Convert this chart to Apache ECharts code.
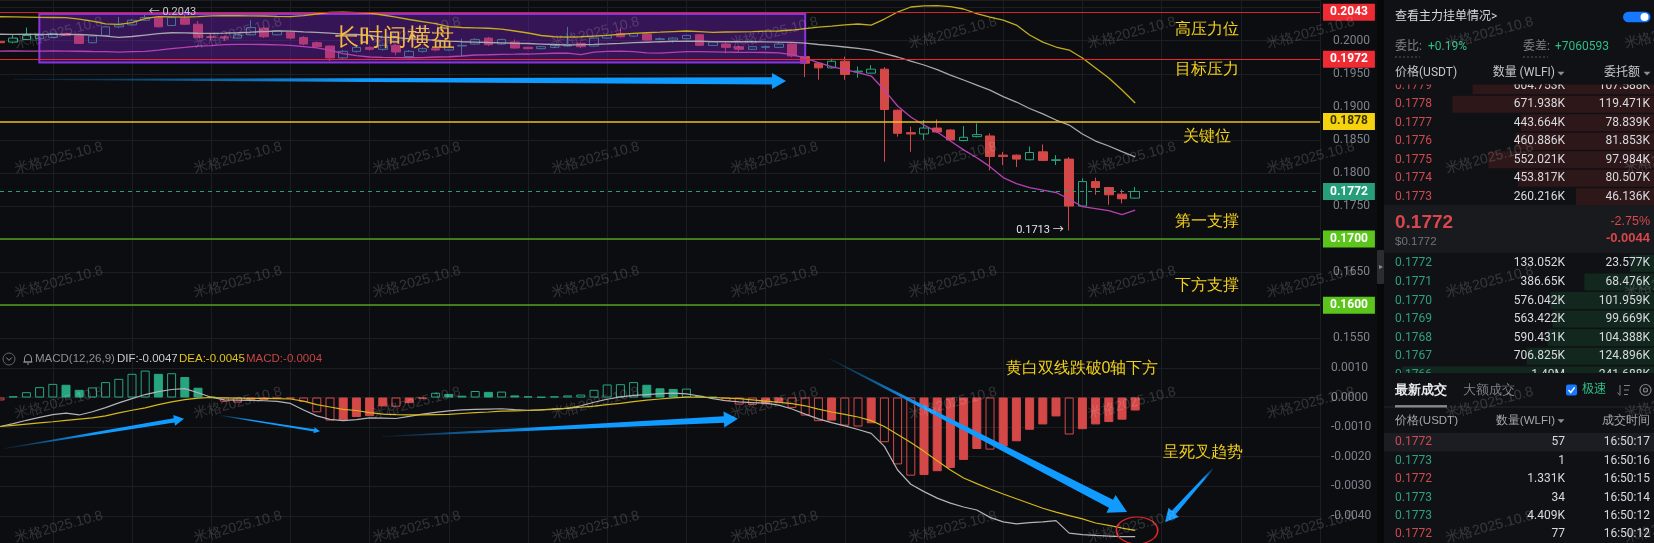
<!DOCTYPE html>
<html lang="zh-CN">
<head>
<meta charset="utf-8">
<title>WLFI/USDT 行情</title>
<script src="https://cdn.jsdelivr.net/npm/echarts@6.0.0/dist/echarts.min.js"></script>
<style>
  html, body { margin: 0; padding: 0; background: #0c0d10; overflow: hidden; }
  #main { width: 1654px; height: 543px; }
</style>
</head>
<body>
<div id="main"></div>
<script>
  // K线 + BOLL + MACD + 右侧盘口，数据按截图估读
  const FONT = 'Roboto, "Noto Sans CJK SC", sans-serif'
  const BG = '#0c0d10'
  const PANEL = '#101114'
  const GRID_LINE = '#1c1e22'
  const UP = '#26a67f'
  const DOWN = '#d44848'

  // ---------- 数据 ----------
  // 101 个位置，后面一段留空
  const categories = Array.from({ length: 101 }, (_, i) => String(i))

  // [open, close, low, high]
  const candles = [
    [0.1999, 0.1997, 0.1996, 0.2000], [0.1998, 0.2004, 0.1996, 0.2010], [0.2002, 0.2008, 0.2001, 0.2020],
    [0.2003, 0.2008, 0.2002, 0.2009], [0.2005, 0.2011, 0.2004, 0.2012], [0.2011, 0.2008, 0.2007, 0.2012],
    [0.2008, 0.1996, 0.1995, 0.2009], [0.1997, 0.2007, 0.1996, 0.2008], [0.2008, 0.2021, 0.2007, 0.2022],
    [0.2021, 0.2024, 0.2019, 0.2036], [0.2024, 0.2031, 0.2023, 0.2033], [0.2031, 0.2035, 0.2030, 0.2043],
    [0.2035, 0.2021, 0.2020, 0.2036], [0.2023, 0.2035, 0.2022, 0.2036], [0.2034, 0.2025, 0.2024, 0.2039],
    [0.2025, 0.2005, 0.2003, 0.2030], [0.2006, 0.2005, 0.2000, 0.2010], [0.2006, 0.2004, 0.2000, 0.2008],
    [0.2004, 0.2009, 0.2003, 0.2010], [0.2009, 0.2020, 0.2008, 0.2031], [0.2019, 0.2006, 0.2004, 0.2021],
    [0.2009, 0.2015, 0.2008, 0.2016], [0.2013, 0.2004, 0.2002, 0.2015], [0.2005, 0.1995, 0.1993, 0.2007],
    [0.1997, 0.1991, 0.1990, 0.1999], [0.1992, 0.1974, 0.1969, 0.1993], [0.1974, 0.1984, 0.1972, 0.1986],
    [0.1984, 0.1990, 0.1982, 0.1992], [0.1990, 0.1987, 0.1985, 0.1992], [0.1987, 0.1993, 0.1985, 0.1995],
    [0.1993, 0.1983, 0.1978, 0.1995], [0.1976, 0.1984, 0.1974, 0.1986], [0.1984, 0.1988, 0.1982, 0.1990],
    [0.1988, 0.1986, 0.1984, 0.1990], [0.1986, 0.1990, 0.1985, 0.1992], [0.1992, 0.1993, 0.1976, 0.2003],
    [0.1995, 0.2002, 0.1994, 0.2004], [0.2004, 0.1994, 0.1992, 0.2006], [0.1995, 0.2002, 0.1994, 0.2003],
    [0.1998, 0.1989, 0.1988, 0.2002], [0.1990, 0.1988, 0.1987, 0.1991], [0.1988, 0.1991, 0.1987, 0.1992],
    [0.1990, 0.1993, 0.1989, 0.1994], [0.1992, 0.1994, 0.1991, 0.2021], [0.1996, 0.1991, 0.1989, 0.1998],
    [0.1992, 0.2004, 0.1991, 0.2005], [0.2004, 0.2008, 0.2003, 0.2010], [0.2011, 0.2006, 0.2005, 0.2020],
    [0.2007, 0.2011, 0.2006, 0.2012], [0.2010, 0.2001, 0.2000, 0.2012], [0.2002, 0.2003, 0.2001, 0.2005],
    [0.2001, 0.2004, 0.1997, 0.2005], [0.2003, 0.2008, 0.2002, 0.2009], [0.2009, 0.1993, 0.1992, 0.2010],
    [0.1993, 0.1998, 0.1992, 0.1999], [0.1995, 0.1990, 0.1981, 0.1997], [0.1991, 0.1987, 0.1984, 0.1992],
    [0.1987, 0.1991, 0.1986, 0.1992], [0.1990, 0.1991, 0.1986, 0.1993], [0.1990, 0.1995, 0.1989, 0.1999],
    [0.1995, 0.1977, 0.1975, 0.1996], [0.1976, 0.1966, 0.1945, 0.1981], [0.1966, 0.1959, 0.1941, 0.1966],
    [0.1959, 0.1969, 0.1958, 0.1973], [0.1969, 0.1949, 0.1941, 0.1976], [0.1953, 0.1954, 0.1944, 0.1961],
    [0.1951, 0.1957, 0.1950, 0.1963], [0.1957, 0.1896, 0.1817, 0.1960], [0.1895, 0.1860, 0.1855, 0.1896],
    [0.1861, 0.1859, 0.1832, 0.1870], [0.1859, 0.1868, 0.1850, 0.1880], [0.1868, 0.1862, 0.1861, 0.1881],
    [0.1865, 0.1850, 0.1849, 0.1866], [0.1849, 0.1854, 0.1848, 0.1871], [0.1855, 0.1858, 0.1854, 0.1875],
    [0.1856, 0.1825, 0.1804, 0.1860], [0.1827, 0.1825, 0.1812, 0.1832], [0.1827, 0.1821, 0.1809, 0.1828],
    [0.1820, 0.1831, 0.1819, 0.1840], [0.1832, 0.1819, 0.1818, 0.1843], [0.1819, 0.1820, 0.1812, 0.1827],
    [0.1821, 0.1750, 0.1713, 0.1824], [0.1750, 0.1787, 0.1749, 0.1792], [0.1787, 0.1778, 0.1767, 0.1793],
    [0.1778, 0.1767, 0.1752, 0.1779], [0.1768, 0.1761, 0.1754, 0.1775], [0.1762, 0.1772, 0.1761, 0.1779]
  ]

  const bollUp = [
    0.20363, 0.20360, 0.20357, 0.20354, 0.20351, 0.20348, 0.20328, 0.20298, 0.20256, 0.20248,
    0.20275, 0.20336, 0.20363, 0.20361, 0.20358, 0.20366, 0.20377, 0.20378, 0.20378, 0.20377,
    0.20374, 0.20369, 0.20366, 0.20381, 0.20404, 0.20429, 0.20434, 0.20426, 0.20419, 0.20389,
    0.20358, 0.20321, 0.20290, 0.20260, 0.20212, 0.20200, 0.20195, 0.20189, 0.20177, 0.20147,
    0.20117, 0.20079, 0.20060, 0.20056, 0.20060, 0.20071, 0.20082, 0.20098, 0.20112, 0.20121,
    0.20129, 0.20138, 0.20147, 0.20139, 0.20127, 0.20132, 0.20135, 0.20139, 0.20144, 0.20147,
    0.20162, 0.20184, 0.20207, 0.20222, 0.20240, 0.20253, 0.20237, 0.20328, 0.20434, 0.20510,
    0.20528, 0.20531, 0.20517, 0.20480, 0.20411, 0.20358, 0.20313, 0.20237, 0.20086, 0.19980,
    0.19905, 0.19859, 0.19738, 0.19587, 0.19436, 0.19254, 0.19058
  ]
  const bollMid = [
    0.20098, 0.20097, 0.20099, 0.20097, 0.20096, 0.20097, 0.20094, 0.20086, 0.20071, 0.20051,
    0.20064, 0.20086, 0.20109, 0.20121, 0.20119, 0.20113, 0.20112, 0.20116, 0.20121, 0.20129,
    0.20139, 0.20147, 0.20144, 0.20135, 0.20127, 0.20116, 0.20101, 0.20094, 0.20079, 0.20056,
    0.20048, 0.20033, 0.20018, 0.20008, 0.19995, 0.19985, 0.19980, 0.19973, 0.19968, 0.19962,
    0.19958, 0.19950, 0.19943, 0.19935, 0.19940, 0.19946, 0.19953, 0.19961, 0.19970, 0.19977,
    0.19985, 0.19991, 0.19995, 0.19992, 0.19988, 0.19985, 0.19985, 0.19985, 0.19983, 0.19980,
    0.19976, 0.19965, 0.19943, 0.19927, 0.19905, 0.19885, 0.19859, 0.19806, 0.19754, 0.19693,
    0.19633, 0.19564, 0.19481, 0.19406, 0.19330, 0.19254, 0.19156, 0.19073, 0.18975, 0.18893,
    0.18801, 0.18725, 0.18589, 0.18483, 0.18408, 0.18324, 0.18245
  ]
  const bollLow = [
    0.19844, 0.19845, 0.19843, 0.19844, 0.19845, 0.19843, 0.19841, 0.19837, 0.19834, 0.19829,
    0.19834, 0.19840, 0.19859, 0.19882, 0.19900, 0.19920, 0.19927, 0.19940, 0.19946, 0.19946,
    0.19943, 0.19938, 0.19930, 0.19912, 0.19893, 0.19859, 0.19806, 0.19776, 0.19754, 0.19749,
    0.19746, 0.19743, 0.19746, 0.19754, 0.19758, 0.19769, 0.19784, 0.19788, 0.19794, 0.19796,
    0.19799, 0.19806, 0.19811, 0.19814, 0.19791, 0.19829, 0.19840, 0.19844, 0.19834, 0.19817,
    0.19814, 0.19825, 0.19834, 0.19834, 0.19832, 0.19829, 0.19826, 0.19825, 0.19822, 0.19817,
    0.19791, 0.19738, 0.19670, 0.19610, 0.19564, 0.19519, 0.19466, 0.19254, 0.19013, 0.18847,
    0.18725, 0.18619, 0.18483, 0.18349, 0.18231, 0.18096, 0.17930, 0.17839, 0.17780, 0.17742,
    0.17705, 0.17606, 0.17490, 0.17462, 0.17432, 0.17372, 0.17440
  ]

  const macdHist = [
    -0.00010, 0.00004, 0.00018, 0.00035, 0.00046, 0.00043, 0.00026, 0.00034, 0.00052, 0.00063,
    0.00080, 0.00091, 0.00080, 0.00082, 0.00069, 0.00033, 0.00003, -0.00014, -0.00017, -0.00010,
    -0.00009, -0.00003, -0.00004, -0.00015, -0.00050, -0.00078, -0.00077, -0.00066, -0.00063, -0.00030,
    -0.00031, -0.00019, -0.00004, 0.00016, 0.00012, 0.00006, 0.00022, 0.00019, 0.00020, 0.00007,
    0.00004, 0.00002, 0.00004, 0.00007, 0.00010, 0.00026, 0.00044, 0.00045, 0.00052, 0.00043,
    0.00031, 0.00029, 0.00030, 0.00006, 0.00002, -0.00012, -0.00024, -0.00025, -0.00023, -0.00019,
    -0.00035, -0.00061, -0.00080, -0.00078, -0.00095, -0.00098, -0.00087, -0.00151, -0.00226, -0.00264,
    -0.00262, -0.00249, -0.00238, -0.00211, -0.00174, -0.00176, -0.00166, -0.00148, -0.00109, -0.00091,
    -0.00064, -0.00125, -0.00107, -0.00091, -0.00083, -0.00075, -0.00044
  ]
  const macdDif = [
    -0.00098, -0.00088, -0.00077, -0.00067, -0.00058, -0.00053, -0.00059, -0.00048, -0.00034, -0.00018,
    -0.00004, 0.00010, 0.00020, 0.00027, 0.00030, 0.00016, 0.00001, -0.00008, -0.00009, -0.00010,
    -0.00011, -0.00013, -0.00020, -0.00042, -0.00062, -0.00074, -0.00078, -0.00075, -0.00069, -0.00070,
    -0.00071, -0.00064, -0.00056, -0.00050, -0.00045, -0.00042, -0.00040, -0.00039, -0.00038, -0.00041,
    -0.00043, -0.00042, -0.00038, -0.00037, -0.00028, -0.00016, -0.00006, 0.00002, 0.00007, 0.00010,
    0.00013, 0.00015, 0.00012, 0.00005, -0.00004, -0.00011, -0.00015, -0.00017, -0.00019, -0.00026,
    -0.00039, -0.00056, -0.00072, -0.00085, -0.00096, -0.00108, -0.00121, -0.00165, -0.00245, -0.00293,
    -0.00318, -0.00340, -0.00357, -0.00370, -0.00380, -0.00405, -0.00420, -0.00427, -0.00423, -0.00420,
    -0.00416, -0.00458, -0.00463, -0.00466, -0.00468, -0.00470, -0.00470
  ]
  const macdDea = [
    -0.00098, -0.00094, -0.00090, -0.00086, -0.00082, -0.00077, -0.00073, -0.00069, -0.00062, -0.00052,
    -0.00043, -0.00035, -0.00024, -0.00015, -0.00007, -0.00002, 0.00000, -0.00001, -0.00002, -0.00003,
    -0.00003, -0.00004, -0.00005, -0.00012, -0.00024, -0.00032, -0.00040, -0.00044, -0.00051, -0.00056,
    -0.00058, -0.00059, -0.00059, -0.00058, -0.00057, -0.00054, -0.00051, -0.00049, -0.00046, -0.00045,
    -0.00044, -0.00042, -0.00040, -0.00036, -0.00033, -0.00029, -0.00024, -0.00020, -0.00014, -0.00009,
    -0.00005, -0.00001, 0.00001, 0.00001, 0.00000, -0.00002, -0.00004, -0.00008, -0.00012, -0.00016,
    -0.00021, -0.00028, -0.00039, -0.00049, -0.00057, -0.00066, -0.00078, -0.00098, -0.00125, -0.00152,
    -0.00182, -0.00214, -0.00245, -0.00272, -0.00291, -0.00309, -0.00326, -0.00342, -0.00358, -0.00374,
    -0.00387, -0.00399, -0.00410, -0.00424, -0.00432, -0.00441, -0.00449
  ]

  // 画线价位
  const levelPrices = [0.2043, 0.1972, 0.1878, 0.1772, 0.1700, 0.1600]
  const levelNotes = ['高压力位', '目标压力', '关键位', null, '第一支撑', '下方支撑']

  // 标注（横盘框、箭头、死叉圈），x 为 K 线序号，y 为价格 / MACD 值
  const rangeBox = [2.98, 0.20404, 61.0, 0.19670]
  const priceArrows = [[1.06, 0.19416, 59.55, 0.19391]]
  const macdArrows = [
    [0.27, -0.00173, 13.94, -0.00072],
    [16.74, -0.00061, 24.24, -0.00114],
    [28.94, -0.00132, 55.9, -0.00072],
    [62.8, 0.00132, 85.38, -0.00387],
    [91.9, -0.00240, 88.26, -0.00421]
  ]
  const deathCross = [86.14, -0.00449]

  // 盘口
  const askPrices = ['0.1779', '0.1778', '0.1777', '0.1776', '0.1775', '0.1774', '0.1773']
  const askQty = ['604.753K', '671.938K', '443.664K', '460.886K', '552.021K', '453.817K', '260.216K']
  const askAmt = ['107.588K', '119.471K', '78.839K', '81.853K', '97.984K', '80.507K', '46.136K']
  const bidPrices = ['0.1772', '0.1771', '0.1770', '0.1769', '0.1768', '0.1767', '0.1766']
  const bidQty = ['133.052K', '386.65K', '576.042K', '563.422K', '590.431K', '706.825K', '1.40M']
  const bidAmt = ['23.577K', '68.476K', '101.959K', '99.669K', '104.388K', '124.896K', '241.688K']

  // 最新成交
  const tradePrices = ['0.1772', '0.1773', '0.1772', '0.1773', '0.1773', '0.1772']
  const tradeQty = ['57', '1', '1.331K', '34', '4.409K', '77']
  const tradeTimes = ['16:50:17', '16:50:16', '16:50:15', '16:50:14', '16:50:12', '16:50:12']
  const tradeSide = ['sell', 'buy', 'sell', 'buy', 'buy', 'sell']

  // ---------- 样式 ----------
  const levelStyles = [
    { line: '#d1242b', width: 1, box: '#ee2a33', text: '#ffffff' },
    { line: '#e8262d', width: 1, box: '#ee2a33', text: '#ffffff' },
    { line: '#e8c516', width: 1.5, box: '#f5d40f', text: '#3a3300' },
    { line: '#2a9d7c', width: 1, box: '#269e7a', text: '#ffffff', dash: true },
    { line: '#4f9f23', width: 1.5, box: '#5cc51c', text: '#ffffff' },
    { line: '#4f9f23', width: 1.5, box: '#5cc51c', text: '#ffffff' }
  ]
  const priceArrowShapes = [{ tail: 0.4, neck: 3.6, head: 8, len: 14, fade: 0.45 }]
  const macdArrowShapes = [
    { tail: 0.4, neck: 2.2, head: 5.5, len: 10, fade: 0.5 },
    { tail: 0.5, neck: 1.1, head: 3, len: 6, fade: 0.3 },
    { tail: 0.4, neck: 3.2, head: 8, len: 14, fade: 0.45 },
    { tail: 0.5, neck: 4.5, head: 10, len: 18, fade: 0.3 },
    { tail: 0.8, neck: 2.6, head: 7, len: 13, fade: 0.2 }
  ]
  const ASK_TOP = 76.55, ASK_ROW = 18.5
  const BID_TOP = 254, BID_ROW = 18.6

  const qtyNum = s => parseFloat(s) * (s.endsWith('M') ? 1000 : 1)

  function levelLine (p, i) {
    const s = levelStyles[i]
    return {
      yAxis: p,
      lineStyle: { color: s.line, width: s.width, type: s.dash ? [4, 4] : 'solid' },
      label: {
        show: true, position: 'end', distance: 3, formatter: p.toFixed(4),
        color: s.text, backgroundColor: s.box, padding: [3, 7, 2, 7],
        fontSize: 12, fontWeight: 'bold', fontFamily: FONT
      }
    }
  }

  function arrowItem (shapes) {
    return function (params, api) {
      const a = api.coord([api.value(0), api.value(1)])
      const b = api.coord([api.value(2), api.value(3)])
      const s = shapes[params.dataIndex]
      const dx = b[0] - a[0], dy = b[1] - a[1]
      const L = Math.sqrt(dx * dx + dy * dy)
      const ux = dx / L, uy = dy / L, nx = -uy, ny = ux
      const bx = b[0] - ux * s.len, by = b[1] - uy * s.len
      return {
        type: 'polygon',
        shape: {
          points: [
            [a[0] + nx * s.tail, a[1] + ny * s.tail],
            [bx + nx * s.neck, by + ny * s.neck],
            [bx + nx * s.head, by + ny * s.head],
            [b[0], b[1]],
            [bx - nx * s.head, by - ny * s.head],
            [bx - nx * s.neck, by - ny * s.neck],
            [a[0] - nx * s.tail, a[1] - ny * s.tail]
          ]
        },
        style: {
          fill: new echarts.graphic.LinearGradient(a[0], a[1], b[0], b[1], [
            { offset: 0, color: 'rgba(15,155,255,0.1)' },
            { offset: s.fade, color: '#0f9bff' },
            { offset: 1, color: '#0f9bff' }
          ], true)
        }
      }
    }
  }

  const histData = macdHist.map((v, i) => {
    const grow = i === 0 || Math.abs(v) >= Math.abs(macdHist[i - 1])
    const c = v >= 0 ? UP : DOWN
    return { value: v, itemStyle: { color: grow ? 'transparent' : c, borderColor: c, borderWidth: 1 } }
  })

  // 最高 / 最低点
  let hiIdx = 0, loIdx = 0
  candles.forEach((c, i) => {
    if (c[3] > candles[hiIdx][3]) hiIdx = i
    if (c[2] < candles[loIdx][2]) loIdx = i
  })

  // ---------- graphic ----------
  function txt (x, y, text, style, z) {
    const st = style || {}
    const size = st.fontSize || 12
    const weight = st.fontWeight || 'normal'
    const s = Object.assign({
      text: text, fill: '#d8dadf', align: 'left', verticalAlign: 'middle'
    }, st)
    s.font = weight + ' ' + size + 'px ' + FONT
    s.textFont = s.font
    s.textAlign = s.align
    s.textVerticalAlign = s.verticalAlign
    return { type: 'text', x: x, y: y, z: z == null ? 5 : z, silent: true, style: s }
  }
  function tri (cx, cy) {
    return {
      type: 'polygon', z: 10, silent: true,
      shape: { points: [[cx - 3.5, cy - 1.5], [cx + 3.5, cy - 1.5], [cx, cy + 2.2]] },
      style: { fill: '#8a8f99' }
    }
  }
  function rect (x, y, w, h, fill, z, r) {
    return { type: 'rect', z: z, silent: true, shape: { x: x, y: y, width: w, height: h, r: r || 0 }, style: { fill: fill } }
  }

  const els = []
  // 右侧盘口背景
  els.push(rect(1384, 0, 270, 543, PANEL, 0))
  els.push(rect(1377, 0, 7, 543, '#07080a', 1))
  els.push(rect(1377, 250, 7, 34, '#2a2c31', 2, 1))
  els.push(txt(1380.5, 267, '▸', { fill: '#8a8f99', fontSize: 8, align: 'center' }, 3))

  // 图上文字标注
  const noteY = [30, 70, 137, null, 222, 286]
  levelNotes.forEach((n, i) => {
    if (!n) return
    els.push(txt(1207, noteY[i], n, {
      fill: '#f2d01c', fontSize: 16, align: 'center', textShadowColor: 'rgba(170,30,30,0.7)', textShadowOffsetX: -1
    }, 20))
  })
  els.push(txt(335, 38, '长时间横盘', { fill: '#f2b940', fontSize: 24 }, 20))
  els.push(txt(1082, 369, '黄白双线跌破0轴下方', {
    fill: '#f2d01c', fontSize: 16, align: 'center', textShadowColor: 'rgba(170,30,30,0.6)', textShadowOffsetX: -1
  }, 20))
  els.push(txt(1203, 453, '呈死叉趋势', {
    fill: '#f2d01c', fontSize: 16, align: 'center', textShadowColor: 'rgba(170,30,30,0.6)', textShadowOffsetX: -1
  }, 20))

  // MACD 标题
  const last = macdHist.length - 1
  els.push({ type: 'circle', z: 20, silent: true, shape: { cx: 9, cy: 359, r: 6 }, style: { fill: 'none', stroke: '#62666e', lineWidth: 1 } })
  els.push({ type: 'polyline', z: 20, silent: true, shape: { points: [[6.3, 357.6], [9, 360.4], [11.7, 357.6]] }, style: { fill: 'none', stroke: '#8a8f99', lineWidth: 1 } })
  els.push({ type: 'polyline', z: 20, silent: true, shape: { points: [[24.5, 362], [24.5, 358], [25.5, 355.5], [28, 354.3], [30.5, 355.5], [31.5, 358], [31.5, 362], [23.5, 362], [32.5, 362]] }, style: { fill: 'none', stroke: '#8a8f99', lineWidth: 1 } })
  els.push({ type: 'line', z: 20, silent: true, shape: { x1: 27, y1: 364, x2: 29, y2: 364 }, style: { stroke: '#8a8f99', lineWidth: 1 } })
  els.push(txt(35, 359, 'MACD(12,26,9)', { fill: '#8a8f99', fontSize: 11.5 }, 20))
  els.push(txt(117, 359, 'DIF:' + macdDif[last].toFixed(4), { fill: '#c9ccd1', fontSize: 11.5 }, 20))
  els.push(txt(179, 359, 'DEA:' + macdDea[last].toFixed(4), { fill: '#e0c21c', fontSize: 11.5 }, 20))
  els.push(txt(246, 359, 'MACD:' + macdHist[last].toFixed(4), { fill: '#c74444', fontSize: 11.5 }, 20))

  // 盘口顶部
  els.push(txt(1395, 16.7, '查看主力挂单情况>', { fill: '#d5d8de' }, 10))
  els.push(rect(1623, 11.7, 27.5, 10.5, '#1677ff', 10, 5.25))
  els.push({ type: 'circle', z: 11, silent: true, shape: { cx: 1644.5, cy: 17, r: 4 }, style: { fill: '#ffffff' } })
  els.push(txt(1395, 46.7, '委比:', { fill: '#7d828b' }, 10))
  els.push(txt(1428, 46.7, '+0.19%', { fill: '#2ebd85' }, 10))
  els.push(txt(1523, 46.7, '委差:', { fill: '#7d828b' }, 10))
  els.push(txt(1555, 46.7, '+7060593', { fill: '#2ebd85' }, 10))
  ;[1395, 1523].forEach(x => {
    els.push({ type: 'line', z: 10, silent: true, shape: { x1: x, y1: 57, x2: x + 25, y2: 57 }, style: { stroke: '#55595f', lineWidth: 1, lineDash: [2, 2] } })
  })
  els.push(txt(1395, 73.3, '价格(USDT)', { fill: '#c3c6cc' }, 10))
  els.push(txt(1555, 73.3, '数量 (WLFI)', { fill: '#c3c6cc', align: 'right' }, 10))
  els.push(tri(1561, 73.3))
  els.push(txt(1640, 73.3, '委托额', { fill: '#c3c6cc', align: 'right' }, 10))
  els.push(tri(1647, 73.3))

  // 卖盘
  askPrices.forEach((p, i) => {
    const y = ASK_TOP + ASK_ROW * (i + 0.5)
    els.push(txt(1395, y, p, { fill: '#cf4a4f' }))
    els.push(txt(1565, y, askQty[i], { align: 'right' }))
    els.push(txt(1650, y, askAmt[i], { align: 'right' }))
  })
  els.push(rect(1384, 62, 270, 22.5, PANEL, 8))

  // 中间价
  els.push(rect(1384, 205, 270, 48, '#191a1e', 1))
  const lastClose = candles[candles.length - 1][1]
  els.push(txt(1395, 223, lastClose.toFixed(4), { fill: '#d9474d', fontSize: 19, fontWeight: 'bold' }))
  els.push(txt(1395, 242, '$' + lastClose.toFixed(4), { fill: '#6f747d', fontSize: 11.5 }))
  els.push(txt(1650, 222, '-2.75%', { fill: '#d9474d', align: 'right', fontSize: 12.5 }))
  els.push(txt(1650, 238.5, '-0.0044', { fill: '#d9474d', align: 'right', fontSize: 13, fontWeight: 'bold' }))

  // 买盘
  bidPrices.forEach((p, i) => {
    const y = BID_TOP + BID_ROW * (i + 0.5)
    els.push(txt(1395, y, p, { fill: '#2ea07d' }))
    els.push(txt(1565, y, bidQty[i], { align: 'right' }))
    els.push(txt(1650, y, bidAmt[i], { align: 'right' }))
  })
  els.push(rect(1384, 373, 270, 30, PANEL, 8))

  // 最新成交
  els.push(txt(1395, 390, '最新成交', { fill: '#e8eaed', fontSize: 13, fontWeight: 'bold' }, 10))
  els.push(rect(1395, 405.5, 52, 2, '#e8eaed', 10))
  els.push(txt(1463, 390, '大额成交', { fill: '#7d828b', fontSize: 13 }, 10))
  els.push(rect(1566, 384.5, 11, 11, '#1677ff', 10, 2))
  els.push({ type: 'polyline', z: 11, silent: true, shape: { points: [[1568.5, 390], [1570.8, 392.5], [1574.6, 387.4]] }, style: { fill: 'none', stroke: '#ffffff', lineWidth: 1.5 } })
  els.push(txt(1582, 390, '极速', { fill: '#2ebd85' }, 10))
  ;[[1620, 385, 1620, 395], [1617.5, 392.5, 1620, 395.5], [1624, 385.5, 1630, 385.5], [1624, 390, 1629, 390], [1624, 394.5, 1628, 394.5]].forEach(l => {
    els.push({ type: 'line', z: 10, silent: true, shape: { x1: l[0], y1: l[1], x2: l[2], y2: l[3] }, style: { stroke: '#7d828b', lineWidth: 1 } })
  })
  els.push({ type: 'circle', z: 10, silent: true, shape: { cx: 1645.5, cy: 390, r: 5.5 }, style: { fill: 'none', stroke: '#7d828b', lineWidth: 1.2 } })
  els.push({ type: 'circle', z: 10, silent: true, shape: { cx: 1645.5, cy: 390, r: 2 }, style: { fill: 'none', stroke: '#7d828b', lineWidth: 1.2 } })
  els.push({ type: 'line', z: 10, silent: true, shape: { x1: 1384, y1: 407, x2: 1654, y2: 407 }, style: { stroke: '#24262b', lineWidth: 1 } })
  els.push(txt(1395, 420.7, '价格(USDT)', { fill: '#a4a8b0', fontSize: 11.5 }, 10))
  els.push(txt(1555, 420.7, '数量(WLFI)', { fill: '#a4a8b0', fontSize: 11.5, align: 'right' }, 10))
  els.push(tri(1561, 420.7))
  els.push(txt(1650, 420.7, '成交时间', { fill: '#a4a8b0', fontSize: 11.5, align: 'right' }, 10))
  els.push(rect(1384, 433, 270, 18.5, '#1c1d22', 2))
  tradePrices.forEach((p, i) => {
    const y = 442.3 + 18.4 * i
    els.push(txt(1395, y, p, { fill: tradeSide[i] === 'sell' ? '#cf4a4f' : '#2ea07d' }))
    els.push(txt(1565, y, tradeQty[i], { align: 'right' }))
    els.push(txt(1650, y, tradeTimes[i], { align: 'right' }))
  })

  // 水印
  ;[33, 158, 282, 403, 527].forEach(y => {
    for (let j = 0; j < 10; j++) {
      const w = txt(59 + 178.8 * j, y, '米格2025.10.8', { fill: 'rgba(255,255,255,0.16)', fontSize: 14, align: 'center' }, 100)
      w.rotation = 0.26
      els.push(w)
    }
  })

  // ---------- option ----------
  const splitEvery = i => i % 6 === 4
  const catAxis = gridIndex => ({
    type: 'category', gridIndex, data: categories, boundaryGap: false,
    axisLine: { show: false }, axisTick: { show: false }, axisLabel: { show: false },
    splitLine: { show: true, interval: splitEvery, lineStyle: { color: GRID_LINE, width: 1 } }
  })
  const hiddenValue = (gridIndex, min, max, inverse) => ({ type: 'value', gridIndex, min, max, inverse: !!inverse, show: false })

  const option = {
    backgroundColor: BG,
    animation: false,
    textStyle: { fontFamily: FONT },
    grid: [
      { left: 0, top: 0, width: 1320, height: 338.3, outerBoundsMode: 'none' },
      { left: 0, top: 338.3, width: 1320, height: 207.2, outerBoundsMode: 'none' },
      { left: 1384, top: ASK_TOP, width: 270, height: ASK_ROW * askPrices.length, outerBoundsMode: 'none' },
      { left: 1384, top: BID_TOP, width: 270, height: BID_ROW * bidPrices.length, outerBoundsMode: 'none' }
    ],
    xAxis: [
      catAxis(0),
      catAxis(1),
      hiddenValue(0, 0, 100),
      hiddenValue(1, 0, 100),
      hiddenValue(2, 0, 900, true),
      hiddenValue(3, 0, 1500, true)
    ],
    yAxis: [
      {
        type: 'value', gridIndex: 0, position: 'right', min: 0.155, max: 0.20616, interval: 0.005,
        axisLine: { show: false }, axisTick: { show: false },
        axisLabel: {
          color: '#7d838d', fontSize: 12, margin: 13,
          formatter: v => {
            const k = v / 0.005
            return (Math.abs(k - Math.round(k)) > 1e-6 || v > 0.2045) ? '' : v.toFixed(4)
          }
        },
        splitLine: { lineStyle: { color: GRID_LINE, width: 1 } }
      },
      {
        type: 'value', gridIndex: 1, position: 'right', min: -0.005, max: 0.002, interval: 0.001,
        axisLine: { show: false }, axisTick: { show: false },
        axisLabel: {
          color: '#7d838d', fontSize: 12, margin: 11,
          formatter: v => (v > 0.0015 || v < -0.0045) ? '' : (Math.abs(v) < 1e-9 ? '0.0000' : v.toFixed(4))
        },
        splitLine: { lineStyle: { color: GRID_LINE, width: 1 } }
      },
      { type: 'category', gridIndex: 2, data: askPrices, inverse: true, show: false },
      { type: 'category', gridIndex: 3, data: bidPrices, inverse: true, show: false }
    ],
    series: [
      {
        name: 'K', type: 'candlestick', xAxisIndex: 0, yAxisIndex: 0, data: candles, barWidth: 9,
        itemStyle: { color: 'transparent', color0: DOWN, borderColor: UP, borderColor0: DOWN, borderWidth: 1 },
        markLine: { silent: true, precision: 4, symbol: ['none', 'none'], animation: false, data: levelPrices.map(levelLine) },
        markPoint: {
          silent: true, precision: 4, symbol: 'circle', symbolSize: 1, itemStyle: { color: 'rgba(0,0,0,0)' },
          data: [
            {
              coord: [hiIdx, candles[hiIdx][3]], value: candles[hiIdx][3],
              label: { show: true, position: 'right', distance: 3, color: '#c3c6cc', fontSize: 11, formatter: '← ' + candles[hiIdx][3].toFixed(4) }
            },
            {
              coord: [loIdx, candles[loIdx][2]], value: candles[loIdx][2],
              label: { show: true, position: 'left', distance: 5, color: '#e2e4e8', fontSize: 11, formatter: candles[loIdx][2].toFixed(4) + ' →' }
            }
          ]
        }
      },
      { name: 'UP', type: 'line', xAxisIndex: 0, yAxisIndex: 0, data: bollUp, symbol: 'none', silent: true, lineStyle: { color: '#c4ac1e', width: 1.3 } },
      { name: 'MB', type: 'line', xAxisIndex: 0, yAxisIndex: 0, data: bollMid, symbol: 'none', silent: true, lineStyle: { color: '#a9a9ad', width: 1.3 } },
      { name: 'DN', type: 'line', xAxisIndex: 0, yAxisIndex: 0, data: bollLow, symbol: 'none', silent: true, lineStyle: { color: '#b840b4', width: 1.3 } },
      {
        name: 'box', type: 'custom', xAxisIndex: 2, yAxisIndex: 0, z: 3, silent: true, data: [rangeBox],
        renderItem: (params, api) => {
          const a = api.coord([api.value(0), api.value(1)])
          const b = api.coord([api.value(2), api.value(3)])
          return {
            type: 'rect',
            shape: { x: a[0], y: a[1], width: b[0] - a[0], height: b[1] - a[1] },
            style: { fill: 'rgba(122,34,200,0.38)', stroke: '#8a33e0', lineWidth: 2 }
          }
        }
      },
      { name: 'arrow1', type: 'custom', xAxisIndex: 2, yAxisIndex: 0, z: 6, silent: true, data: priceArrows, renderItem: arrowItem(priceArrowShapes) },
      { name: 'MACD', type: 'bar', xAxisIndex: 1, yAxisIndex: 1, data: histData, barWidth: 9, silent: true },
      { name: 'DIF', type: 'line', xAxisIndex: 1, yAxisIndex: 1, data: macdDif, symbol: 'none', silent: true, lineStyle: { color: '#b4b4b8', width: 1.2 } },
      { name: 'DEA', type: 'line', xAxisIndex: 1, yAxisIndex: 1, data: macdDea, symbol: 'none', silent: true, lineStyle: { color: '#d4b81c', width: 1.2 } },
      { name: 'arrow2', type: 'custom', xAxisIndex: 3, yAxisIndex: 1, z: 6, silent: true, data: macdArrows, renderItem: arrowItem(macdArrowShapes) },
      {
        name: 'cross', type: 'custom', xAxisIndex: 3, yAxisIndex: 1, z: 6, silent: true, data: [deathCross],
        renderItem: (params, api) => {
          const c = api.coord([api.value(0), api.value(1)])
          return {
            type: 'circle', x: c[0], y: c[1], scaleY: 13.5 / 20.7,
            shape: { cx: 0, cy: 0, r: 20.7 },
            style: { fill: 'none', stroke: '#e3262b', lineWidth: 1.6, strokeNoScale: true }
          }
        }
      },
      { name: 'asks', type: 'bar', xAxisIndex: 4, yAxisIndex: 2, data: askQty.map(qtyNum), barWidth: 17, silent: true, itemStyle: { color: '#2e1719' } },
      { name: 'bids', type: 'bar', xAxisIndex: 5, yAxisIndex: 3, data: bidQty.map(qtyNum), barWidth: 17, silent: true, itemStyle: { color: '#12281f' } }
    ],
    graphic: { elements: els }
  }

  const chart = echarts.init(document.getElementById('main'))
  chart.setOption(option)
</script>
</body>
</html>
